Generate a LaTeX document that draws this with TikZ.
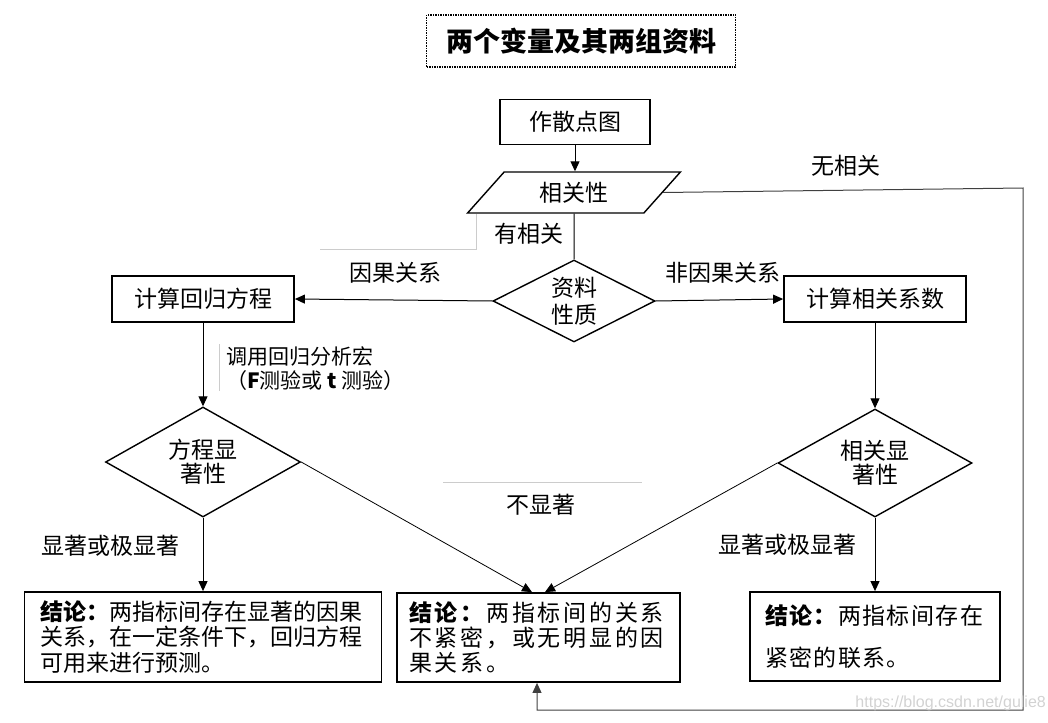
\documentclass[tikz,border=0pt]{standalone}
\usepackage{fontspec}
\setmainfont{Noto Sans CJK SC}
\newfontfamily\wmfont{Liberation Sans}
\usetikzlibrary{shapes.geometric,arrows.meta}

\begin{document}
\begin{tikzpicture}[x=1pt,y=-1pt,
  box/.style={draw,line width=1.8pt,inner sep=0,font=\fontsize{23}{25}\selectfont},
  dia/.style={draw,diamond,line width=1.4pt,inner sep=0,align=center,font=\fontsize{23}{24}\selectfont},
  lab/.style={inner sep=0,font=\fontsize{23}{25}\selectfont},
  res/.style={draw,line width=1.8pt,align=left,inner ysep=0pt},
  arr/.style={line width=1pt,-{Triangle[length=10pt,width=9pt]}},
  faint/.style={gray!40,line width=0.8pt}]
\useasboundingbox (0,0) rectangle (1048,722);

\node[draw,densely dotted,line width=1.5pt,minimum width=309pt,minimum height=52pt,
  font=\fontsize{27}{27}\selectfont\bfseries] (title) at (581,41) {两个变量及其两组资料};
\node[box,minimum width=150pt,minimum height=45pt] (scatter) at (575,122) {作散点图};
\node[draw,trapezium,trapezium left angle=49.5,trapezium right angle=130.5,
  trapezium stretches=true,minimum width=213pt,minimum height=41pt,line width=1.4pt,
  inner sep=0,font=\fontsize{23}{25}\selectfont] (corr) at (574,192.5) {相关性};
\node[dia,minimum width=162pt,minimum height=82pt,aspect=2,
  font=\fontsize{23}{27}\selectfont] (kind) at (574,301) {资料\\性质};
\node[box,minimum width=182pt,minimum height=46pt] (reg) at (203,299) {计算回归方程};
\node[box,minimum width=182pt,minimum height=46pt] (coef) at (875,299) {计算相关系数};
\node[dia,minimum width=195pt,minimum height=110pt,aspect=1.8] (regsig) at (203,462) {方程显\\著性};
\node[dia,minimum width=194pt,minimum height=108pt,aspect=1.8] (corsig) at (875,463) {相关显\\著性};

\node[res,minimum width=357pt,minimum height=90pt,text width=325pt,inner xsep=16pt,
  font=\fontsize{23}{25.5}\selectfont] (res1) at (203,637)
  {\textbf{结论：}两指标间存在显著的因果\\关系，在一定条件下，回归方程\\可用来进行预测。};
\node[res,minimum width=283pt,minimum height=89pt,text width=259pt,inner xsep=12pt,
  font=\fontsize{23}{25}\selectfont\addfontfeature{LetterSpace=12}] (res2) at (538.5,637.5)
  {\textbf{结论：}两指标间的关系\\不紧密，或无明显的因\\果关系。};
\node[res,minimum width=250pt,minimum height=89pt,text width=220pt,inner xsep=15pt,
  font=\fontsize{23}{42}\selectfont\addfontfeature{LetterSpace=6}] (res3) at (875,636.5)
  {\textbf{结论：}两指标间存在\\紧密的联系。};

\foreach \x/\y/\t/\n in {529/234/有相关/yes, 395/273/因果关系/cause, 723/273/非因果关系/noncause,
  846/166/无相关/none, 110/546/显著或极显著/sigA, 787/545/显著或极显著/sigB, 541/505/不显著/nsig}
  \node[lab] (\n) at (\x,\y) {\t};
\node[align=left,anchor=west,inner sep=0,font=\fontsize{21}{24}\selectfont] (macro) at (226,369)
  {调用回归分析宏\\（\textbf{F}测验或 \textbf{t} 测验）};

\draw[faint] (320,249) -- (476,249) -- (476,214);
\draw[faint] (219,344) -- (219,391);
\draw[faint] (443,482) -- (642,482);

\draw[arr] (scatter.south) -- (scatter.south |- corr.north);
\draw[line width=1pt] (corr.south) -- (kind.north);
\draw[arr] (kind.west) -- (reg.east);
\draw[arr] (kind.east) -- (coef.west);
\foreach \a/\b in {reg/regsig, coef/corsig, regsig/res1, corsig/res3}
  \draw[arr] (\a) -- (\b);
\draw[arr,line width=0.8pt] (regsig.east) -- ([xshift=-6.5pt]res2.north);
\draw[arr,line width=0.8pt] (corsig.west) -- ([xshift=6.5pt]res2.north);
\coordinate (turn) at (1023,188);
\coordinate (back) at (537,710);
\draw[arr,black!75] (corr.east) -- (turn) |- (back) -- (back |- res2.south);

\node[anchor=east,inner sep=0,text=gray!35,font=\wmfont\fontsize{16}{16}\selectfont] (mark)
  at (1046,703) {https://blog.csdn.net/gulie8};
\end{tikzpicture}
\end{document}
